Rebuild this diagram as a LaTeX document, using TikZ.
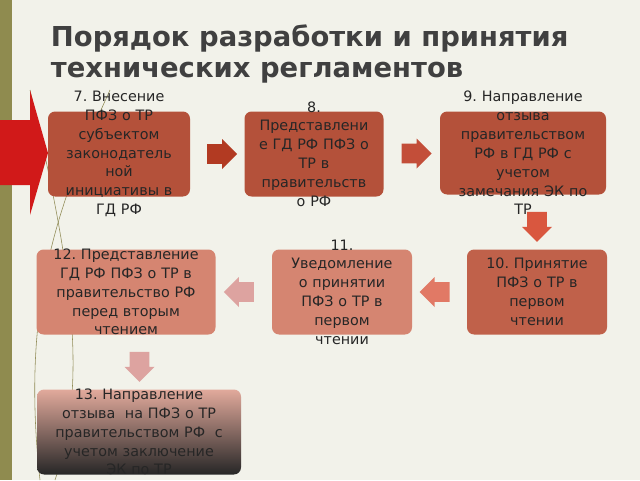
\documentclass[tikz,border=0pt]{standalone}
\usepackage{fontspec}
\setmainfont{DejaVu Sans}
\usetikzlibrary{positioning,calc,shapes.arrows}
\definecolor{stepdark}{HTML}{B4513A}
\definecolor{stepmid}{HTML}{C0614A}
\definecolor{steplight}{HTML}{D58571}
\definecolor{arrdark}{HTML}{B23A22}
\definecolor{arrmid}{HTML}{D9573F}
\definecolor{arrlight}{HTML}{DDA3A0}
\definecolor{bgcream}{HTML}{F2F2EA}
\frenchspacing
\begin{document}
\begin{tikzpicture}[x=0.025cm, y=-0.025cm,
        stepbox/.style={rounded corners=5pt, inner sep=0pt},
        steptext/.style={align=center, font=\fontsize{10.2}{13.4}\selectfont, text=black!85},
        blockarr/.style={single arrow, draw=none, minimum height=30*0.025cm, minimum width=30*0.025cm, single arrow head extend=3pt, inner xsep=0pt, inner ysep=5.5pt},
        downarr/.style={blockarr, shape border rotate=270, inner xsep=5.5pt, inner ysep=0pt}
      ]
      \fill[bgcream] (0,0) rectangle (640,480);
      \fill[olive!45!gray] (0,0) rectangle (12,480);
      \draw[olive!40!gray, thin] (40,480) .. controls (20,300) and (60,200) .. (110,90);
      \draw[olive!40!gray, thin] (55,480) .. controls (90,380) and (70,260) .. (30,90);
      \useasboundingbox (0,0) rectangle (640,480);

      \node (title) at (46,20) [anchor=north west, align=left, font=\fontsize{19.5}{22}\selectfont\bfseries, text=black!75] {Порядок разработки и принятия\\технических регламентов};

      % big entry arrow
      \fill[red!80!black!90] (0,120) -- (30,120) -- (30,90) -- (48,153) -- (30,215) -- (30,185) -- (0,185) -- cycle;

      % boxes
      \node (s7) at (119,154) [stepbox, fill=stepdark, minimum width=142*0.025cm, minimum height=85*0.025cm] {};
      \node (s8) at (314,154) [stepbox, fill=stepdark, minimum width=139*0.025cm, minimum height=85*0.025cm] {};
      \node (s9) at (523,153) [stepbox, fill=stepdark, minimum width=166*0.025cm, minimum height=83*0.025cm] {};
      \node (s10) at (537,292) [stepbox, fill=stepmid, minimum width=140*0.025cm, minimum height=85*0.025cm] {};
      \node (s11) at (342,292) [stepbox, fill=steplight, minimum width=140*0.025cm, minimum height=85*0.025cm] {};
      \node (s12) at (126,292) [stepbox, fill=steplight, minimum width=179*0.025cm, minimum height=85*0.025cm] {};
      \node (s13) at (139,432) [stepbox, top color=steplight!70, bottom color=black!85, minimum width=204*0.025cm, minimum height=85*0.025cm] {};

      \node at (s7) [steptext, text width=135*0.025cm] {7. Внесение\\ПФЗ о ТР\\субъектом\\законодатель\\ной\\инициативы в\\ГД РФ};
      \node at (s8) [steptext, text width=135*0.025cm] {8.\\Представлени\\е ГД РФ ПФЗ о\\ТР в\\правительств\\о РФ};
      \node at (s9) [steptext, text width=160*0.025cm] {9. Направление\\отзыва\\правительством\\РФ в ГД РФ с\\учетом\\замечания ЭК по\\ТР};
      \node at (s10) [steptext, text width=135*0.025cm] {10. Принятие\\ПФЗ о ТР в\\первом\\чтении};
      \node at (s11) [steptext, text width=135*0.025cm] {11.\\Уведомление\\о принятии\\ПФЗ о ТР в\\первом\\чтении};
      \node at (s12) [steptext, text width=178*0.025cm] {12. Представление\\ГД РФ ПФЗ о ТР в\\правительство РФ\\перед вторым\\чтением};
      \node at (s13) [steptext, text width=204*0.025cm] {13. Направление\\отзыва\ \ на ПФЗ о ТР\\правительством РФ\ \ с\\учетом заключение\\ЭК по ТР};

      % block arrows
      \node (a78) at ($(s7.east)!0.5!(s8.west)$) [blockarr, fill=arrdark] {};
      \node (a89) at ($(s8.east)!0.5!(s9.west)$) [blockarr, fill=arrmid!90!black] {};
      \node (a910) at ($(s9.south)!0.5!(s10.north)+(7,0)$) [downarr, fill=arrmid] {};
      \node (a1011) at ($(s10.west)!0.5!(s11.east)$) [blockarr, fill=arrmid!80!white, shape border rotate=180] {};
      \node (a1112) at ($(s11.west)!0.5!(s12.east)$) [blockarr, fill=arrlight, shape border rotate=180] {};
      \node (a1213) at ($(s12.south)!0.5!(s13.north)+(7,0)$) [downarr, fill=arrlight] {};
    \end{tikzpicture}
\end{document}
